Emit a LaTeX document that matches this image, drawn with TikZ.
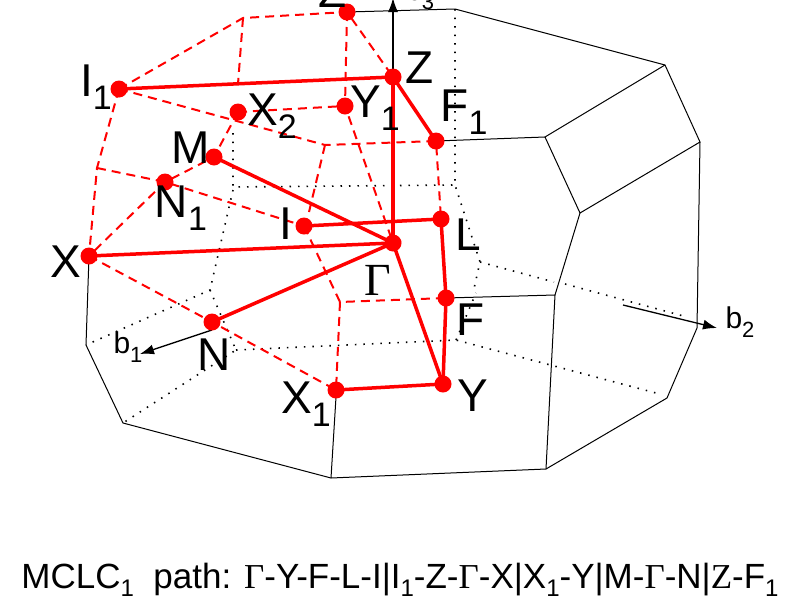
\documentclass[tikz,border=0pt]{standalone}
\usepackage{fontspec}
\setmainfont{Liberation Sans}
\newfontfamily\serifg{Liberation Serif}
\usetikzlibrary{arrows.meta}
\begin{document}
\begin{tikzpicture}[x=1pt,y=-1pt,
 pt/.style={circle,fill=red,inner sep=0pt,minimum size=17pt},
 sol/.style={red,line width=3.5pt},
 dsh/.style={red,line width=2pt,dash pattern=on 9pt off 6pt},
 edge/.style={black,line width=1pt},
 hid/.style={black,line width=1.6pt,dash pattern=on 1.5pt off 7pt},
 lab/.style={font=\fontsize{46}{46}\selectfont,inner sep=0pt},
 ax/.style={black,line width=1.3pt,-{Latex[length=14pt,width=10pt]}}]
\useasboundingbox (0,0) rectangle (800,600);
% points
\coordinate (Zt) at (347,12);
\coordinate (Z) at (393,77);
\coordinate (I1) at (119,89);
\coordinate (X2) at (238,112);
\coordinate (Y1) at (345,106);
\coordinate (F1) at (436,141);
\coordinate (M) at (214,157);
\coordinate (N1) at (165,182);
\coordinate (I) at (304,226);
\coordinate (L) at (441,219);
\coordinate (G) at (393,243);
\coordinate (X) at (89,256);
\coordinate (F) at (446,298);
\coordinate (N) at (212,322);
\coordinate (X1) at (336,390);
\coordinate (Y) at (443,384);
% red dashed corners
\coordinate (c1) at (243,18);
\coordinate (c2) at (238,84);
\coordinate (c3) at (325,145);
\coordinate (c4) at (97,168);
\coordinate (c5) at (340,302);
% black polyhedron
\coordinate (p1) at (455,9);
\coordinate (p2) at (665,65);
\coordinate (p3) at (700,142);
\coordinate (p4) at (545,137);
\coordinate (p5) at (580,213);
\coordinate (p6) at (555,295);
\coordinate (p7) at (697,328);
\coordinate (p8) at (667,398);
\coordinate (p9) at (546,469);
\coordinate (p10) at (331,478);
\coordinate (p11) at (123,423);
\coordinate (p12) at (86,345);
\coordinate (p13) at (336,397);
% hidden edges
\draw[hid] (p1) -- (455,185) -- (480,262) -- (473,293);
\draw[hid] (480,262) -- (554,282);
\draw[hid] (565,284) -- (687,317);
\draw[hid] (233,133) -- (233,187) -- (455,185);
\draw[hid] (233,190) -- (210,290) -- (p12);
\draw[hid] (210,290) -- (236,350) -- (p11);
\draw[hid] (236,350) -- (456,340) -- (656,393);
\draw[hid] (456,340) -- (476,293);
% edges
\draw[edge] (Zt) -- (p1) -- (p2) -- (p3) -- (p7) -- (p8) -- (p9) -- (p10) -- (p11) -- (p12) -- (X);
\draw[edge] (p2) -- (p4) -- (p5) -- (p3);
\draw[edge] (F1) -- (p4);
\draw[edge] (p5) -- (p6) -- (F);
\draw[edge] (p6) -- (p9);
\draw[edge] (p10) -- (p13);
% axes
\draw[ax] (Z) -- (393,-2);
\node[anchor=west,inner sep=0pt,font=\fontsize{30}{30}\selectfont] at (405,-6) {b\raisebox{-9pt}{\fontsize{22}{22}\selectfont 3}};
\draw[ax] (N) ++(0,8) -- (140,354);
\node[anchor=center,inner sep=0pt,font=\fontsize{30}{30}\selectfont] at (128,347) {b\raisebox{-9pt}{\fontsize{22}{22}\selectfont 1}};
\draw[ax] (623,305) -- (717,328);
\node[anchor=center,inner sep=0pt,font=\fontsize{30}{30}\selectfont] at (740,322) {b\raisebox{-9pt}{\fontsize{22}{22}\selectfont 2}};
% dashed red
\draw[dsh] (I1) -- (c1) -- (Zt) -- (Z);
\draw[dsh] (c1) -- (c2);
\draw[dsh] (Zt) -- (Y1) -- (G);
\draw[dsh] (I1) -- (c3) -- (F1) -- (L);
\draw[dsh] (c3) -- (309,212);
\draw[dsh] (X2) -- (Y1);
\draw[dsh] (X2) -- (M) -- (N1) -- (X);
\draw[dsh] (I1) -- (c4) -- (X);
\draw[dsh] (c4) -- (N1) -- (I);
\draw[dsh] (I) -- (c5) -- (F);
\draw[dsh] (c5) -- (X1);
\draw[dsh] (X) -- (N) -- (X1);
% solid red
\draw[sol] (I1) -- (Z) -- (F1);
\draw[sol] (Z) -- (G);
\draw[sol] (M) -- (G);
\draw[sol] (I) -- (L) -- (F) -- (Y) -- (X1);
\draw[sol] (X) -- (G) -- (N);
\draw[sol] (G) -- (Y);
% dots
\foreach \p in {Zt,Z,I1,X2,Y1,F1,M,N1,I,L,G,X,F,N,X1,Y} \node[pt] (d\p) at (\p) {};
% labels
\newcommand{\sub}[1]{\raisebox{-13pt}{\fontsize{34}{34}\selectfont #1}}
\node[lab] at (333,-8) {Z};
\node[lab] at (420,68) {Z};
\node[lab] at (96,87) {I\sub{1}};
\node[lab] at (272,116) {X\sub{2}};
\node[lab] at (375,108) {Y\sub{1}};
\node[lab] at (464,112) {F\sub{1}};
\node[lab] at (191,148) {M};
\node[lab] at (181,208) {N\sub{1}};
\node[lab] at (286,224) {I};
\node[lab] at (468,235) {L};
\node[lab,font=\serifg\fontsize{46}{46}\selectfont] at (378,280) {Γ};
\node[lab] at (66,262) {X};
\node[lab] at (471,320) {F};
\node[lab] at (214,355) {N};
\node[lab] at (306,404) {X\sub{1}};
\node[lab] at (473,396) {Y};
% caption
\node[inner sep=0pt,font=\fontsize{35}{35}\selectfont] at (400,580) {MCLC\raisebox{-8pt}{\fontsize{24}{24}\selectfont 1}\ \ path: {\serifg Γ}-Y-F-L-I|I\raisebox{-8pt}{\fontsize{24}{24}\selectfont 1}-Z-{\serifg Γ}-X|X\raisebox{-8pt}{\fontsize{24}{24}\selectfont 1}-Y|M-{\serifg Γ}-N|{\serifg Z}-F\raisebox{-8pt}{\fontsize{24}{24}\selectfont 1}};
\end{tikzpicture}
\end{document}
